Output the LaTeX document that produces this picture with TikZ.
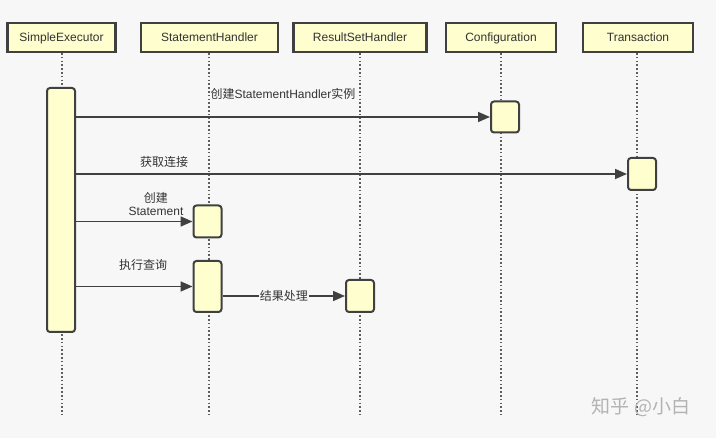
\documentclass[tikz,border=0pt]{standalone}
\usepackage{fontspec}
\setmainfont{Liberation Sans}
\newfontfamily\cjk{Noto Sans CJK SC}
\usetikzlibrary{arrows.meta}
\definecolor{bgc}{HTML}{F7F7F7}
\definecolor{boxfill}{HTML}{FEFECE}
\definecolor{boxline}{HTML}{404040}
\definecolor{txt}{HTML}{333333}
\definecolor{lifec}{HTML}{5E5E5E}
\definecolor{wm}{HTML}{B3B3B3}
\tikzset{
  header/.style={draw=boxline, fill=boxfill, line width=2.2pt, minimum height=29pt, inner sep=0pt, text height=10pt, text depth=1.4pt, text=txt, font=\fontsize{12}{14}\selectfont},
  actbox/.style={draw=boxline, fill=boxfill, line width=2pt, rounded corners=3pt, minimum width=28pt, inner sep=0pt},
  lifeline/.style={draw=lifec, line width=2pt, dash pattern=on 1.6pt off 2.2pt},
  msg/.style={draw=boxline, line width=1.6pt, -{Triangle[length=12pt,width=10pt]}},
  lbl/.style={text=txt, font=\fontsize{12}{14}\selectfont, inner sep=1pt},
}
\begin{document}
\begin{tikzpicture}[x=1pt,y=-1pt]
\path[fill=bgc] (0,0) rectangle (716,438);
\useasboundingbox (0,0) rectangle (716,438);
% headers
\node[header, minimum width=108pt] (se) at (61.5,37.5) {SimpleExecutor};
\node[header, minimum width=137pt] (sh) at (209.5,37.5) {StatementHandler};
\node[header, minimum width=133pt] (rsh) at (360,37.5) {ResultSetHandler};
\node[header, minimum width=110pt] (cfg) at (501,37.5) {Configuration};
\node[header, minimum width=110pt] (tx) at (638,37.5) {Transaction};
% lifeline ends
\coordinate (seend) at (62,415);
\coordinate (shend) at (209,415);
\coordinate (rshend) at (360,415);
\coordinate (cfgend) at (501,415);
\coordinate (txend) at (637,415);
\draw[lifeline] (se.south -| seend) -- (seend);
\draw[lifeline] (sh.south -| shend) -- (shend);
\draw[lifeline] (rsh.south -| rshend) -- (rshend);
\draw[lifeline] (cfg.south -| cfgend) -- (cfgend);
\draw[lifeline] (tx.south -| txend) -- (txend);
% activations
\node[actbox, minimum height=244pt] (seact) at (61,210) {};
\node[actbox, minimum height=31pt] (cfgact) at (505,117) {};
\node[actbox, minimum height=32pt] (txact) at (642,174) {};
\node[actbox, minimum height=32pt] (shact1) at (207.5,221.5) {};
\node[actbox, minimum height=51pt] (shact2) at (207.5,286.5) {};
\node[actbox, minimum height=32pt] (rshact) at (360,296) {};
% messages
\draw[msg] (seact.east |- cfgact.west) -- (cfgact.west);
\node[lbl] (l1) at (283,94) {{\cjk 创建}StatementHandler{\cjk 实例}};
\draw[msg] (seact.east |- txact.west) -- (txact.west);
\node[lbl] (l2) at (164,162) {\cjk 获取连接};
\draw[msg] (seact.east |- shact1.west) -- (shact1.west);
\node[lbl, align=center] (l3) at (156,204) {{\cjk 创建}\\[-1pt]Statement};
\draw[msg] (seact.east |- shact2.west) -- (shact2.west);
\node[lbl] (l4) at (143,265) {\cjk 执行查询};
\draw[msg] (shact2.east |- rshact.west) -- node[lbl, fill=bgc, pos=0.5] (l5) {\cjk 结果处理} (rshact.west);
% watermark
\node[text=wm, font=\fontsize{19}{22}\selectfont\cjk, inner sep=0pt] (wmk) at (641,407) {知乎 @小白};
\end{tikzpicture}
\end{document}
